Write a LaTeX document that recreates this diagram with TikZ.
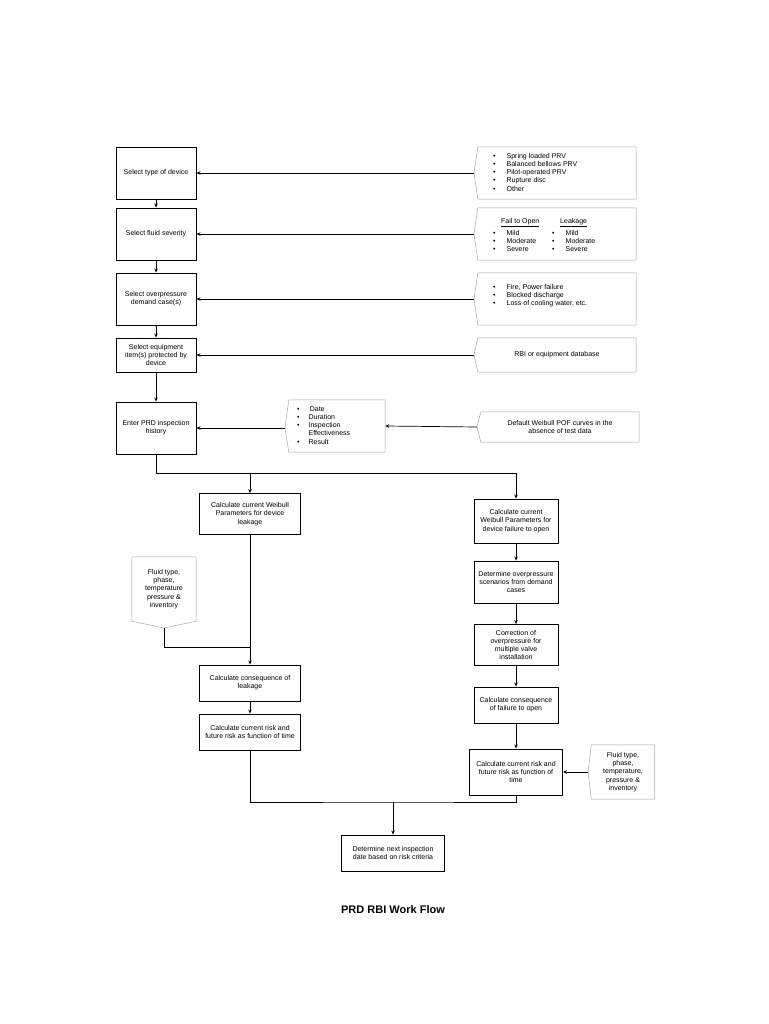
\documentclass[tikz,border=0pt]{standalone}
\usepackage{fontspec}
\setmainfont{Liberation Sans}
\usetikzlibrary{arrows.meta}
\begin{document}
\begin{tikzpicture}[x=1pt,y=-1pt,
  every node/.style={font=\fontsize{7}{8.3}\selectfont, inner sep=1pt},
  box/.style={draw, line width=0.9pt, align=center, minimum width=#1},
  pt/.style={draw=none, align=left},
  side/.style={draw=black!35, line width=0.5pt},
  ln/.style={line width=0.7pt},
  ar/.style={line width=0.7pt, -{Stealth[length=4pt,width=3.5pt]}}]
\useasboundingbox (0,0) rectangle (768,1024);
\newcommand{\bul}{\textbullet}
% left column
\node[box=80pt, minimum height=52pt] (b1) at (156,173) {Select type of device};
\node[box=80pt, minimum height=52pt] (b2) at (156,234) {Select fluid severity};
\node[box=80pt, minimum height=52pt] (b3) at (156,299) {Select overpressure\\demand case(s)};
\node[box=80pt, minimum height=34pt] (b4) at (156,355) {Select equipment\\item(s) protected by\\device};
\node[box=80pt, minimum height=52pt] (b5) at (156,428) {Enter PRD inspection\\history};
% side shapes
\newcommand{\sideshape}[2]{\draw[side] (#1.north west) -- (#1.north east) -- (#1.south east) -- (#1.south west) -- (#2) -- cycle;}
\node[pt, minimum width=158pt, minimum height=52pt] (r1) at (557,173) {};
\node[anchor=west, align=left] at (492,173) {\begin{tabular}{@{}l@{\hspace{11pt}}l@{}}\bul&Spring loaded PRV\\\bul&Balanced bellows PRV\\\bul&Pilot-operated PRV\\\bul&Rupture disc\\\bul&Other\end{tabular}};
\coordinate (t1) at (474,173); \sideshape{r1}{t1}
\node[pt, minimum width=158pt, minimum height=52pt] (r2) at (557,234) {};
\node[anchor=west, align=left] at (492,236) {\begin{tabular}{@{}l@{\hspace{11pt}}l@{\hspace{16pt}}l@{\hspace{11pt}}l@{}}\multicolumn{2}{@{\hspace{8pt}}l}{\underline{Fail to Open}}&\multicolumn{2}{@{\hspace{8pt}}l}{\underline{Leakage}}\\[3pt]\bul&Mild&\bul&Mild\\\bul&Moderate&\bul&Moderate\\\bul&Severe&\bul&Severe\end{tabular}};
\coordinate (t2) at (474,234); \sideshape{r2}{t2}
\node[pt, minimum width=158pt, minimum height=52pt] (r3) at (557,299) {};
\node[anchor=west, align=left] at (492,296) {\begin{tabular}{@{}l@{\hspace{11pt}}l@{}}\bul&Fire, Power failure\\\bul&Blocked discharge\\\bul&Loss of cooling water, etc.\end{tabular}};
\coordinate (t3) at (474,299); \sideshape{r3}{t3}
\node[pt, minimum width=158pt, minimum height=34pt] (r4) at (557,355) {RBI or equipment database};
\coordinate (t4) at (474,355); \sideshape{r4}{t4}
\node[pt, minimum width=96pt, minimum height=52pt] (m5) at (337,426) {};
\node[anchor=west, align=left] at (296,426) {\begin{tabular}{@{}l@{\hspace{9pt}}l@{}}\bul&\,Date\\\bul&Duration\\\bul&Inspection\\&Effectiveness\\\bul&Result\end{tabular}};
\coordinate (t5) at (285,428); \sideshape{m5}{t5}
\node[pt, minimum width=158pt, minimum height=30pt, align=center] (r5) at (560,427) {Default Weibull POF curves in the\\absence of test data};
\coordinate (t6) at (477,427); \sideshape{r5}{t6}
\draw[ar] (t1) -- (b1.east);
\draw[ar] (t2) -- (b2.east);
\draw[ar] (t3) -- (b3.east);
\draw[ar] (t4) -- (b4.east);
\draw[ar] (t5) -- (b5.east);
\draw[ar] (t6) -- (m5.east);
\draw[ar] (b1) -- (b2); \draw[ar] (b2) -- (b3); \draw[ar] (b3) -- (b4); \draw[ar] (b4) -- (b5);
% lower left
\node[box=101pt, minimum height=41pt] (a1) at (250,514) {Calculate current Weibull\\Parameters for device\\leakage};
\node[box=101pt, minimum height=36pt] (a2) at (250,683) {Calculate consequence of\\leakage};
\node[box=101pt, minimum height=36pt] (a3) at (250,732) {Calculate current risk and\\future risk as function of time};
% lower right
\node[box=84pt, minimum height=44pt] (c1) at (516,521) {Calculate current\\Weibull Parameters for\\device failure to open};
\node[box=84pt, minimum height=42pt] (c2) at (516,582) {Determine overpressure\\scenarios from demand\\cases};
\node[box=84pt, minimum height=41pt] (c3) at (516,645) {Correction of\\overpressure for\\multiple valve\\installation};
\node[box=84pt, minimum height=36pt] (c4) at (516,705) {Calculate consequence\\of failure to open};
\node[box=93pt, minimum height=46pt] (c5) at (516,772) {Calculate current risk and\\future risk as function of\\time};
\node[box=103pt, minimum height=36pt] (f) at (393,853) {Determine next inspection\\date based on risk criteria};
% fluid shapes
\node[pt, minimum width=64pt, minimum height=64pt, align=center] (fl) at (164,589) {Fluid type,\\phase,\\temperature\\pressure \&\\inventory};
\coordinate (flt) at (164,628);
\draw[side] (fl.north west) -- (fl.north east) -- (fl.south east) -- (flt) -- (fl.south west) -- cycle;
\node[pt, minimum width=63pt, minimum height=54pt, align=center] (fr) at (623,772) {Fluid type,\\phase,\\temperature,\\pressure \&\\inventory};
\coordinate (frt) at (588,772); \sideshape{fr}{frt}
% connectors
\coordinate (j1) at (156,473);
\draw[ln] (b5.south) -- (j1) -- (516,473);
\draw[ar] (250,473) -- (a1.north);
\draw[ar] (516,473) -- (c1.north);
\draw[ar] (a1) -- (a2);
\draw[ln] (flt) |- (250,647);
\draw[ar] (a2) -- (a3);
\draw[ar] (c1) -- (c2); \draw[ar] (c2) -- (c3); \draw[ar] (c3) -- (c4); \draw[ar] (c4) -- (c5);
\draw[ar] (frt) -- (c5.east);
\coordinate (j2) at (393,802);
\draw[ln] (a3.south) |- (j2) -| (c5.south);
\draw[ar] (j2) -- (f.north);
\node[font=\bfseries\fontsize{11}{13}\selectfont] (title) at (393,910) {PRD RBI Work Flow};
\end{tikzpicture}
\end{document}
